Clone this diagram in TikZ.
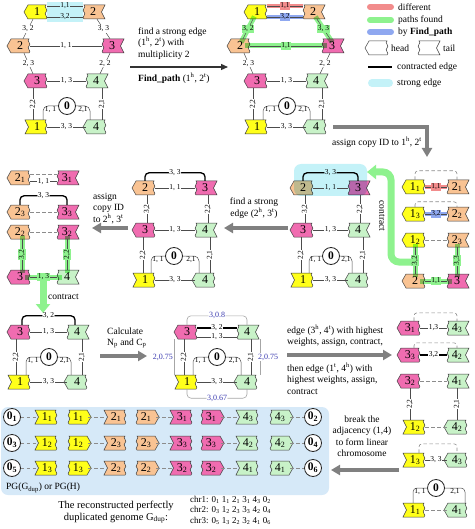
\documentclass[tikz,border=0pt]{standalone}
\usepackage{fontspec}
\setmainfont{Liberation Serif}
\usetikzlibrary{arrows.meta}
\pgfdeclarelayer{bg}
\pgfsetlayers{bg,main}
\definecolor{gY}{HTML}{FFFF1A}
\definecolor{gO}{HTML}{F9C393}
\definecolor{gP}{HTML}{F06CB0}
\definecolor{gG}{HTML}{C8F2C8}
\definecolor{hiR}{HTML}{F28C8C}
\definecolor{hiG}{HTML}{8EF28E}
\definecolor{hiB}{HTML}{8FA8F0}
\definecolor{stC}{HTML}{C4F2F8}
\definecolor{bgJ}{HTML}{D6E9F8}
\definecolor{txB}{HTML}{3A3AB0}
\definecolor{arG}{HTML}{808080}
\def\gLP{(-9,-7) -- (-13,0) -- (-9,7)}
\def\gLN{(-12,-7) -- (-8.5,0) -- (-12,7)}
\def\gLW{(-9,-7) .. controls (-6,-5.5) and (-12,-2) .. (-9,0) .. controls (-6,2) and (-12,5.5) .. (-9,7)}
\def\gRP{(9,7) -- (13,0) -- (9,-7)}
\def\gRN{(12,7) -- (8.5,0) -- (12,-7)}
\def\gRW{(9,7) .. controls (12,5.5) and (6,2) .. (9,0) .. controls (12,-2) and (6,-5.5) .. (9,-7)}
\newcommand\gn[7]{%
  \begin{scope}[shift={(#2,#3)}]
    \filldraw[fill=#4,draw=black!75,line width=0.5pt] \csname gL#5\endcsname -- \csname gR#6\endcsname -- cycle;
  \end{scope}
  \node[gtxt] (#1) at (#2,#3) {#7};}
\tikzset{
 gtxt/.style={minimum width=20pt,minimum height=14pt,inner sep=0pt,font=\fontsize{12}{13}\selectfont},
 zc/.style={circle,draw=black!85,fill=white,line width=0.8pt,minimum size=17pt,inner sep=0pt,font=\fontsize{11.5}{12}\selectfont\bfseries},
 ed/.style={draw=black!70,line width=0.5pt},
 ced/.style={draw=black,line width=1.3pt},
 ded/.style={draw=black!45,line width=0.6pt,dash pattern=on 3.5pt off 2.5pt},
 el/.style={fill=white,inner sep=0.6pt,font=\fontsize{7.5}{8}\selectfont},
 elv/.style={el,rotate=90},
 hR/.style={draw=hiR,line width=4pt},
 hGr/.style={draw=hiG,line width=5pt,blend mode=multiply},
 hB/.style={draw=hiB,line width=4pt},
 bigarrow/.style={draw=arG,line width=3.5pt,-{Triangle[length=9pt,width=10pt]}},
 tarrow/.style={draw=black!80,line width=1.3pt,-{Triangle[length=7pt,width=6pt]}},
 garrow/.style={draw=hiG,line width=7pt,-{Triangle[length=9pt,width=14pt]}},
 gline/.style={draw=black!35,line width=0.6pt},
 txt/.style={font=\fontsize{9.5}{11.5}\selectfont,inner sep=0pt},
 blab/.style={font=\fontsize{8}{9}\selectfont,text=txB,fill=white,inner sep=0.6pt},
}
\newcommand\pgrow[8]{%
 \node[zc] (j#1s) at (12,#2) {0\textsubscript{#3}};
 \gn{j#1a}{47}{#2}{gY}{N}{W}{1\textsubscript{#4}}
 \gn{j#1b}{78}{#2}{gY}{W}{P}{1\textsubscript{#4}}
 \gn{j#1c}{116}{#2}{gO}{N}{W}{2\textsubscript{#5}}
 \gn{j#1d}{146}{#2}{gO}{W}{P}{2\textsubscript{#5}}
 \gn{j#1e}{182}{#2}{gP}{N}{W}{3\textsubscript{#6}}
 \gn{j#1f}{211}{#2}{gP}{W}{P}{3\textsubscript{#6}}
 \gn{j#1g}{248}{#2}{gG}{N}{W}{4\textsubscript{#7}}
 \gn{j#1h}{280}{#2}{gG}{W}{P}{4\textsubscript{#7}}
 \node[zc] (j#1t) at (313,#2) {0\textsubscript{#8}};
 \draw[ded] (j#1s) -- (j#1a);
 \draw[ded] (j#1b) -- (j#1c);
 \draw[ded] (j#1d) -- (j#1e);
 \draw[ded] (j#1f) -- (j#1g);
 \draw[ded] (j#1h) -- (j#1t);
}
\begin{document}
\begin{tikzpicture}[x=1pt,y=-1pt]
\useasboundingbox (0,0) rectangle (474,529);

%% ---------------- Panel A ----------------
\gn{a1}{37}{12}{gY}{P}{W}{1}
\gn{a2r}{93}{12}{gO}{W}{N}{2}
\gn{a2}{20}{46}{gO}{P}{W}{2}
\gn{a3r}{112}{46}{gP}{W}{N}{3}
\gn{a3}{37}{81}{gP}{P}{W}{3}
\gn{a4r}{96}{81}{gG}{W}{N}{4}
\gn{a1b}{37}{127}{gY}{N}{W}{1}
\gn{a4b}{96}{127}{gG}{P}{W}{4}
\node[zc] (a0) at (67,106) {0};
\begin{pgfonlayer}{bg}
\fill[stC] ([yshift=3pt]a1.north east) rectangle ([yshift=-3pt]a2r.south west);
\end{pgfonlayer}
\draw[ed] ([yshift=6pt]a1.east) -- ([yshift=6pt]a2r.west) node[el,fill=stC,midway]{1,1};
\draw[ed] ([yshift=-5pt]a1.east) -- ([yshift=-5pt]a2r.west) node[el,fill=stC,midway]{3,2};
\draw[ed] ([xshift=-4pt]a1.south) -- ([xshift=3pt]a2.north) node[el,midway]{3, 2};
\draw[ed] ([xshift=4pt]a2r.south) -- ([xshift=-2pt]a3r.north) node[el,midway]{3, 3};
\draw[ed] (a2.east) -- (a3r.west) node[el,midway]{1, 1};
\draw[ed] ([xshift=4pt]a2.south) -- ([xshift=-4pt]a3.north) node[el,midway]{2, 3};
\draw[ed] ([xshift=-2pt]a3r.south) -- ([xshift=4pt]a4r.north) node[el,midway]{2, 2};
\draw[ed] (a3.east) -- (a4r.west) node[el,midway]{1, 3};
\draw[ed] ([xshift=-4pt]a3.south) -- ([xshift=-4pt]a1b.north) node[elv,midway]{2,2};
\draw[ed] ([xshift=6pt]a4r.south) -- ([xshift=6pt]a4b.north) node[elv,midway]{2,1};
\draw[ed,rounded corners=5] ([xshift=6pt]a1b.north) |- (a0.west) node[el,fill=none,pos=0.75,below]{1, 1};
\draw[ed,rounded corners=5] (a0.east) -| ([xshift=-6pt]a4b.north) node[el,fill=none,pos=0.25,below]{2,1};
\draw[ed] (a1b.east) -- (a4b.west) node[el,midway]{3, 3};

%% arrow A -> B
\coordinate (r1s) at (130,67);
\coordinate (r1e) at (228,67);
\draw[tarrow] (r1s) -- (r1e);
\node[txt,anchor=west,align=left] (t1) at (138,43.5) {find a strong edge\\(1\textsuperscript{h}, 2\textsuperscript{t}) with\\multiplicity 2};
\node[txt,anchor=west] (t2) at (138,78) {\textbf{Find\_path} (1\textsuperscript{h}, 2\textsuperscript{t})};

%% ---------------- Panel B ----------------
\gn{b1}{257}{12}{gY}{P}{W}{1}
\gn{b2r}{313}{12}{gO}{W}{N}{2}
\gn{b2}{240}{46}{gO}{P}{W}{2}
\gn{b3r}{332}{46}{gP}{W}{N}{3}
\gn{b3}{257}{81}{gP}{P}{W}{3}
\gn{b4r}{316}{81}{gG}{W}{N}{4}
\gn{b1b}{257}{127}{gY}{N}{W}{1}
\gn{b4b}{316}{127}{gG}{P}{W}{4}
\node[zc] (b0) at (287,106) {0};
\begin{pgfonlayer}{bg}
\draw[hR] ([yshift=6pt]b1.east) -- ([yshift=6pt]b2r.west);
\draw[hB] ([yshift=-5pt]b1.east) -- ([yshift=-5pt]b2r.west);
\end{pgfonlayer}
\draw[hGr,shorten <=-3pt,shorten >=-4pt] ([xshift=-4pt]b1.south) -- ([xshift=3pt]b2.north);
\draw[hGr,shorten <=-5pt,shorten >=-5pt] (b2.east) -- (b3r.west);
\draw[hGr,shorten <=-3pt,shorten >=-4pt] ([xshift=4pt]b2r.south) -- ([xshift=-2pt]b3r.north);
\draw[ed] ([yshift=6pt]b1.east) -- ([yshift=6pt]b2r.west) node[el,fill=hiR,midway]{1,1};
\draw[ed] ([yshift=-5pt]b1.east) -- ([yshift=-5pt]b2r.west) node[el,fill=hiB,midway]{3,2};
\draw[ed] ([xshift=-4pt]b1.south) -- ([xshift=3pt]b2.north) node[el,fill=hiG,midway]{3, 2};
\draw[ed] ([xshift=4pt]b2r.south) -- ([xshift=-2pt]b3r.north) node[el,fill=hiG,midway]{3, 3};
\draw[ed] (b2.east) -- (b3r.west) node[el,fill=hiG,midway]{1,1};
\draw[ed] ([xshift=4pt]b2.south) -- ([xshift=-4pt]b3.north) node[el,midway]{2, 3};
\draw[ed] ([xshift=-2pt]b3r.south) -- ([xshift=4pt]b4r.north) node[el,midway]{2, 2};
\draw[ed] (b3.east) -- (b4r.west) node[el,midway]{1, 3};
\draw[ed] ([xshift=-4pt]b3.south) -- ([xshift=-4pt]b1b.north) node[elv,midway]{2,2};
\draw[ed] ([xshift=6pt]b4r.south) -- ([xshift=6pt]b4b.north) node[elv,midway]{2,1};
\draw[ed,rounded corners=5] ([xshift=6pt]b1b.north) |- (b0.west) node[el,fill=none,pos=0.75,below]{1, 1};
\draw[ed,rounded corners=5] (b0.east) -| ([xshift=-6pt]b4b.north) node[el,fill=none,pos=0.25,below]{2,1};
\draw[ed] (b1b.east) -- (b4b.west) node[el,midway]{3, 3};

%% ---------------- Legend ----------------
\draw[hR,line width=6pt,line cap=round] (370,7) -- (391,7);
\node[txt,anchor=west] (lg1) at (398,7) {different};
\draw[draw=hiG,line width=6pt,line cap=round] (370,20) -- (391,20);
\node[txt,anchor=west] (lg2) at (398,20) {paths found};
\draw[hB,line width=6pt,line cap=round] (370,32) -- (391,32);
\node[txt,anchor=west] (lg3) at (398,32) {by \textbf{Find\_path}};
\gn{lh}{378}{48}{white}{P}{W}{}
\node[txt,anchor=west] (lg4) at (391,48) {head};
\gn{lt}{428}{48}{white}{W}{N}{}
\node[txt,anchor=west] (lg5) at (443,48) {tail};
\draw[ced] (368,67) -- (392,67);
\node[txt,anchor=west] (lg6) at (397,67) {contracted edge};
\draw[draw=stC,line width=8pt,line cap=round] (372,83) -- (389,83);
\node[txt,anchor=west] (lg7) at (397,83) {strong edge};

%% arrow B -> C
\coordinate (r2e) at (427,157);
\draw[bigarrow] ([xshift=7pt]b4b.east) -| (r2e);
\node[txt] (t3) at (377,142) {assign copy ID to 1\textsuperscript{h}, 2\textsuperscript{t}};

%% ---------------- Panel C ----------------
\coordinate (gcs) at (412,262);
\coordinate (gcm) at (391,172);
\coordinate (gce) at (367,172);
\draw[garrow,rounded corners=8] (gcs) -| (gcm) -- (gce);
\node[txt,rotate=-90] (tc) at (382,216) {contract};
\gn{c11}{415}{187}{gY}{P}{W}{1\textsubscript{1}}
\gn{c21}{457}{187}{gO}{W}{N}{2\textsubscript{1}}
\gn{c13}{415}{214}{gY}{P}{W}{1\textsubscript{3}}
\gn{c22}{457}{214}{gO}{W}{N}{2\textsubscript{2}}
\gn{c12}{415}{240}{gY}{P}{W}{1\textsubscript{2}}
\gn{c23}{457}{240}{gO}{W}{N}{2\textsubscript{3}}
\gn{c2}{415}{281}{gO}{P}{W}{2}
\gn{c3}{457}{281}{gP}{W}{N}{3}
\begin{pgfonlayer}{bg}
\draw[hR] (c11.east) -- (c21.west);
\draw[hB] (c13.east) -- (c22.west);
\end{pgfonlayer}
\draw[ed] (c11.east) -- (c21.west) node[el,fill=hiR,midway]{1,1};
\draw[ded,rounded corners=3] (c11.north) -- ++(0,-9) -| (c21.north);
\draw[ed] (c13.east) -- (c22.west) node[el,fill=hiB,midway]{3,2};
\draw[ded,rounded corners=3] (c13.north) -- ++(0,-5) -| (c22.north);
\draw[ded] (c12.east) -- (c23.west);
\draw[hGr,shorten <=-3pt,shorten >=-3pt] (c12.south) -- (c2.north);
\draw[hGr,shorten <=-3pt,shorten >=-3pt] (c23.south) -- (c3.north);
\draw[hGr,shorten <=-5pt,shorten >=-5pt] (c2.east) -- (c3.west);
\draw[ed] (c12.south) -- (c2.north) node[elv,fill=hiG,midway]{3,2};
\draw[ed] (c23.south) -- (c3.north) node[elv,fill=hiG,midway]{3,3};
\draw[ed] (c2.east) -- (c3.west) node[el,fill=hiG,midway]{1,1};

%% ---------------- Panel D ----------------
\gn{d2}{303}{188}{gO}{P}{W}{2}
\gn{d3r}{358}{188}{gP}{W}{N}{3}
\gn{d3}{303}{230}{gP}{P}{W}{3}
\gn{d4r}{358}{230}{gG}{W}{N}{4}
\gn{d1b}{303}{280}{gY}{N}{W}{1}
\gn{d4b}{358}{280}{gG}{P}{W}{4}
\node[zc] (d0) at (331,256) {0};
\fill[stC,blend mode=multiply,rounded corners=7] (294,164) rectangle (367,196);
\draw[ced,rounded corners=4] (d2.north) -- ++(0,-8) -| (d3r.north) node[el,fill=stC,pos=0.25]{3, 3};
\draw[ed] (d2.east) -- (d3r.west) node[el,fill=stC,midway]{1, 1};
\draw[ed] ([xshift=2pt]d2.south) -- ([xshift=2pt]d3.north) node[elv,midway]{3,2};
\draw[ed] ([xshift=2pt]d3r.south) -- ([xshift=2pt]d4r.north) node[elv,midway]{2,2};
\draw[ed] (d3.east) -- (d4r.west) node[el,midway]{1, 3};
\draw[ed] ([xshift=-2pt]d3.south) -- ([xshift=-2pt]d1b.north) node[elv,midway]{2,2};
\draw[ed] ([xshift=5pt]d4r.south) -- ([xshift=5pt]d4b.north) node[elv,midway]{2,1};
\draw[ed,rounded corners=5] ([xshift=6pt]d1b.north) |- (d0.west) node[el,fill=none,pos=0.75,below]{1, 1};
\draw[ed,rounded corners=5] (d0.east) -| ([xshift=-6pt]d4b.north) node[el,fill=none,pos=0.25,below]{2,1};
\draw[ed] (d1b.east) -- (d4b.west) node[el,midway]{3, 3};

%% arrow D -> E
\coordinate (de1) at (288,228);
\coordinate (de2) at (224,228);
\draw[bigarrow] (de1) -- (de2);
\node[txt,align=center] (t4) at (254,208) {find a strong\\edge (2\textsuperscript{h}, 3\textsuperscript{t})};

%% ---------------- Panel E ----------------
\gn{e2}{145}{188}{gO}{P}{W}{2}
\gn{e3r}{205}{188}{gP}{W}{N}{3}
\gn{e3}{145}{230}{gP}{P}{W}{3}
\gn{e4r}{205}{230}{gG}{W}{N}{4}
\gn{e1b}{145}{280}{gY}{N}{W}{1}
\gn{e4b}{205}{280}{gG}{P}{W}{4}
\node[zc] (e0) at (174,256) {0};
\draw[ced,rounded corners=4] (e2.north) -- ++(0,-8) -| (e3r.north) node[el,pos=0.25]{3, 3};
\draw[ed] (e2.east) -- (e3r.west) node[el,midway]{1, 1};
\draw[ed] ([xshift=2pt]e2.south) -- ([xshift=2pt]e3.north) node[elv,midway]{3,2};
\draw[ed] ([xshift=3pt]e3r.south) -- ([xshift=3pt]e4r.north) node[elv,midway]{2,2};
\draw[ed] (e3.east) -- (e4r.west) node[el,midway]{1, 3};
\draw[ed] ([xshift=-2pt]e3.south) -- ([xshift=-2pt]e1b.north) node[elv,midway]{2,2};
\draw[ed] ([xshift=5pt]e4r.south) -- ([xshift=5pt]e4b.north) node[elv,midway]{2,1};
\draw[ed,rounded corners=5] ([xshift=6pt]e1b.north) |- (e0.west) node[el,fill=none,pos=0.75,below]{1, 1};
\draw[ed,rounded corners=5] (e0.east) -| ([xshift=-6pt]e4b.north) node[el,fill=none,pos=0.25,below]{2,1};
\draw[ed] (e1b.east) -- (e4b.west) node[el,midway]{3, 3};

%% arrow E -> F
\coordinate (ef1) at (128,228);
\coordinate (ef2) at (92,228);
\draw[bigarrow] (ef1) -- (ef2);
\node[txt,anchor=west,align=left] (t5) at (93,208.5) {assign\\copy ID\\to 2\textsuperscript{h}, 3\textsuperscript{t}};

%% ---------------- Panel F ----------------
\coordinate (fg1) at (43,279);
\coordinate (fg2) at (43,313);
\draw[garrow] (fg1) -- (fg2);
\node[txt,anchor=west] (tf) at (48,297) {contract};
\gn{f21}{20}{178}{gO}{P}{W}{2\textsubscript{1}}
\gn{f31}{67}{178}{gP}{W}{N}{3\textsubscript{1}}
\gn{f23}{20}{212}{gO}{P}{W}{2\textsubscript{3}}
\gn{f33}{67}{212}{gP}{W}{N}{3\textsubscript{3}}
\gn{f22}{20}{232}{gO}{P}{W}{2\textsubscript{2}}
\gn{f32}{67}{232}{gP}{W}{N}{3\textsubscript{2}}
\gn{f3}{20}{277}{gP}{P}{W}{3}
\gn{f4}{67}{277}{gG}{W}{N}{4}
\draw[ded] ([yshift=4pt]f21.east) -- ([yshift=4pt]f31.west);
\draw[ed] ([yshift=-3.5pt]f21.east) -- ([yshift=-3.5pt]f31.west) node[el,midway]{1, 1};
\draw[ced,rounded corners=4] (f23.north) -- ++(0,-9) -| (f33.north) node[el,pos=0.25]{3, 3};
\draw[ded] (f23.east) -- (f33.west);
\draw[ded] (f22.east) -- (f32.west);
\draw[hGr,shorten <=-3pt,shorten >=-3pt] ([xshift=2pt]f22.south) -- ([xshift=2pt]f3.north);
\draw[hGr,shorten <=-3pt,shorten >=-3pt] (f32.south) -- (f4.north);
\draw[hGr,shorten <=-5pt,shorten >=-5pt] (f3.east) -- (f4.west);
\draw[ed] ([xshift=2pt]f22.south) -- ([xshift=2pt]f3.north) node[elv,fill=hiG,midway]{3,2};
\draw[ed] (f32.south) -- (f4.north) node[elv,fill=hiG,midway]{2,2};
\draw[ed] (f3.east) -- (f4.west) node[el,fill=hiG,midway]{1, 3};

%% ---------------- Panel G ----------------
\gn{g3}{20}{332}{gP}{P}{W}{3}
\gn{g4r}{77}{332}{gG}{W}{N}{4}
\gn{g1b}{20}{382}{gY}{N}{W}{1}
\gn{g4b}{77}{382}{gG}{P}{W}{4}
\node[zc] (g0) at (49,357) {0};
\draw[ced,rounded corners=4] ([xshift=2pt]g3.north) -- ++(0,-9) -| ([xshift=-2pt]g4r.north) node[el,pos=0.25]{3, 2};
\draw[ed] (g3.east) -- (g4r.west) node[el,midway]{1, 3};
\draw[ed] ([xshift=-4pt]g3.south) -- ([xshift=-4pt]g1b.north) node[elv,midway]{2,2};
\draw[ed] ([xshift=5pt]g4r.south) -- ([xshift=5pt]g4b.north) node[elv,midway]{2,1};
\draw[ed,rounded corners=5] ([xshift=6pt]g1b.north) |- (g0.west) node[el,fill=none,pos=0.75,below]{1, 1};
\draw[ed,rounded corners=5] (g0.east) -| ([xshift=-6pt]g4b.north) node[el,fill=none,pos=0.25,below]{2,1};
\draw[ed] (g1b.east) -- (g4b.west) node[el,midway]{3, 3};

%% arrow G -> H
\coordinate (gh1) at (100,356);
\coordinate (gh2) at (147,356);
\draw[bigarrow] (gh1) -- (gh2);
\node[txt,anchor=west,align=left] (t6) at (107,338) {Calculate\\N\textsubscript{p} and C\textsubscript{p}};

%% ---------------- Panel H ----------------
\gn{h3}{187}{332}{gP}{P}{W}{3}
\gn{h4r}{247}{332}{gG}{W}{N}{4}
\gn{h1b}{187}{382}{gY}{N}{W}{1}
\gn{h4b}{247}{382}{gG}{P}{W}{4}
\node[zc] (h0) at (217,357) {0};
\draw[gline,rounded corners=4] (h3.north) -- ++(0,-9) -| (h4r.north) node[blab,pos=0.25]{3,0.8};
\draw[gline,rounded corners=4] (h1b.south) -- ++(0,9) -| (h4b.south) node[blab,pos=0.25]{3,0.67};
\draw[gline] ([xshift=-3pt]h3.south west) -- ([xshift=-3pt]h1b.north west) node[blab,midway,left]{2,0.75};
\draw[gline] ([xshift=3pt]h4r.south east) -- ([xshift=3pt]h4b.north east) node[blab,midway,right,xshift=-3pt]{2,0.75};
\draw[ced] ([yshift=4pt]h3.east) -- ([yshift=4pt]h4r.west) node[el,midway]{3, 2};
\draw[ed] ([yshift=-5pt]h3.east) -- ([yshift=-5pt]h4r.west) node[el,midway]{1, 3};
\draw[ed] ([xshift=-3pt]h3.south) -- ([xshift=-3pt]h1b.north) node[elv,midway]{2,2};
\draw[ed] ([xshift=4pt]h4r.south) -- ([xshift=4pt]h4b.north) node[elv,midway]{2,1};
\draw[ed,rounded corners=5] ([xshift=6pt]h1b.north) |- (h0.west) node[el,fill=none,pos=0.75,below]{1, 1};
\draw[ed,rounded corners=5] (h0.east) -| ([xshift=-6pt]h4b.north) node[el,fill=none,pos=0.25,below]{2,1};
\draw[ed] (h1b.east) -- (h4b.west) node[el,midway]{3, 3};

%% arrow H -> I
\coordinate (hi1) at (287,355);
\coordinate (hi2) at (392,355);
\draw[bigarrow] (hi1) -- (hi2);
\node[txt,anchor=west,align=left] (t7) at (287,336) {edge (3\textsuperscript{h}, 4\textsuperscript{t}) with highest\\weights, assign, contract,};
\node[txt,anchor=west,align=left] (t8) at (287,378.5) {then edge (1\textsuperscript{t}, 4\textsuperscript{h}) with\\highest weights, assign,\\contract};

%% ---------------- Panel I ----------------
\gn{i31}{410}{328}{gP}{P}{W}{3\textsubscript{1}}
\gn{i43}{457}{328}{gG}{W}{N}{4\textsubscript{3}}
\gn{i33}{410}{355}{gP}{P}{W}{3\textsubscript{3}}
\gn{i42}{457}{355}{gG}{W}{N}{4\textsubscript{2}}
\gn{i32}{410}{381}{gP}{P}{W}{3\textsubscript{2}}
\gn{i41}{457}{381}{gG}{W}{N}{4\textsubscript{1}}
\gn{i12}{415}{427}{gY}{N}{W}{1\textsubscript{2}}
\gn{i42b}{457}{427}{gG}{P}{W}{4\textsubscript{2}}
\gn{i13}{415}{460}{gY}{N}{W}{1\textsubscript{3}}
\gn{i43b}{457}{460}{gG}{P}{W}{4\textsubscript{3}}
\node[zc] (i0) at (436,488) {0};
\gn{i11}{415}{510}{gY}{N}{W}{1\textsubscript{1}}
\gn{i41b}{457}{510}{gG}{P}{W}{4\textsubscript{1}}
\draw[ded,rounded corners=3] ([xshift=4pt]i31.north) -- ++(0,-8) -| (i43.north);
\draw[ed] (i31.east) -- (i43.west) node[el,midway]{1,3};
\draw[ded,rounded corners=3] ([xshift=4pt]i33.north) -- ++(0,-5) -| (i42.north);
\draw[ced] (i33.east) -- (i42.west) node[el,midway]{3,2};
\draw[ded] (i32.east) -- (i41.west);
\draw[ed] (i32.south) -- (i32.south |- i12.north) node[elv,midway]{2,2};
\draw[ed] (i41.south) -- (i42b.north) node[elv,midway]{2,1};
\draw[ded] (i12.east) -- (i42b.west);
\draw[ded,rounded corners=3] ([xshift=4pt]i13.north) -- ++(0,-9) -| (i43b.north);
\draw[ed] (i13.east) -- (i43b.west) node[el,midway]{3, 3};
\draw[ed,rounded corners=4] ([xshift=-2pt]i11.north) |- (i0.west) node[el,fill=none,pos=0.75,below]{1, 1};
\draw[ed,rounded corners=4] (i0.east) -| ([xshift=8pt]i41b.north) node[el,fill=none,pos=0.25,below]{2,1};
\draw[ded] (i11.east) -- (i41b.west);

%% arrow I -> J
\coordinate (ij1) at (399,470);
\coordinate (ij2) at (331,470);
\draw[bigarrow] (ij1) -- (ij2);
\node[txt,align=center] (t9) at (362,436) {break the\\adjacency (1,4)\\to form linear\\chromosome};

%% ---------------- Panel J ----------------
\begin{pgfonlayer}{bg}
\fill[bgJ,rounded corners=7] (1,407) rectangle (329,495);
\end{pgfonlayer}
\pgrow{1}{417}{1}{1}{1}{1}{3}{2}
\pgrow{2}{443}{3}{2}{3}{3}{2}{4}
\pgrow{3}{468}{5}{3}{2}{2}{1}{6}
\node[txt,anchor=west] (pgl) at (6,488) {PG(G\textsubscript{dup}) or PG(H)};
\node[align=center,inner sep=0pt,font=\fontsize{10.5}{11.5}\selectfont] (cap) at (116,512.5) {The reconstructed perfectly\\duplicated genome G\textsubscript{dup}:};
\node[anchor=west,align=left,inner sep=0pt,font=\fontsize{9}{10.5}\selectfont] (chr) at (190,510) {chr1: 0\textsubscript{1} 1\textsubscript{1} 2\textsubscript{1} 3\textsubscript{1} 4\textsubscript{3} 0\textsubscript{2}\\chr2: 0\textsubscript{3} 1\textsubscript{2} 2\textsubscript{3} 3\textsubscript{3} 4\textsubscript{2} 0\textsubscript{4}\\chr3: 0\textsubscript{5} 1\textsubscript{3} 2\textsubscript{2} 3\textsubscript{2} 4\textsubscript{1} 0\textsubscript{6}};
\end{tikzpicture}
\end{document}
